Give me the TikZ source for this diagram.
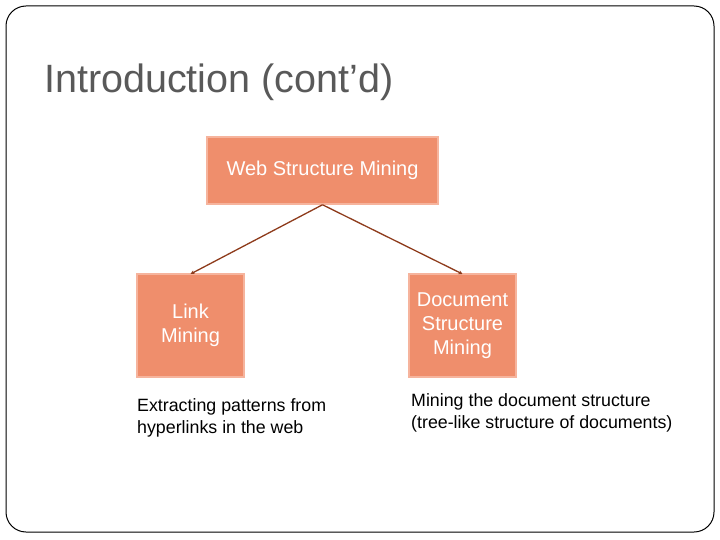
\documentclass[tikz,border=0pt]{standalone}
\usepackage{fontspec}
\setmainfont{Liberation Sans}
\usetikzlibrary{arrows.meta}
\definecolor{boxfill}{HTML}{EF8E6C}
\definecolor{boxline}{HTML}{F6B49D}
\definecolor{conn}{HTML}{8E3B1B}
\definecolor{titlec}{HTML}{595959}
\begin{document}
\begin{tikzpicture}[x=1pt,y=-1pt,
  box/.style={draw=boxline,line width=1.5pt,fill=boxfill,text=white,inner sep=0pt,align=center,font=\fontsize{20}{24}\selectfont},
  desc/.style={anchor=north west,align=left,inner sep=0pt,font=\fontsize{17.8}{22}\selectfont},
  link/.style={draw=conn,line width=1.3pt,-{Stealth[length=4pt,width=4pt]}}]
\useasboundingbox (0,0) rectangle (720,540);
\fill[white] (0,0) rectangle (720,540);
\draw[line width=1pt,rounded corners=20pt] (6,6) rectangle (714,532);
\node[anchor=west,text=titlec,font=\fontsize{39.5}{44}\selectfont,inner sep=0pt] (title) at (44,82) {Introduction (cont’d)};
\node[box,minimum width=231pt,minimum height=67pt] (web) at (322.5,170.5) {Web Structure Mining};
\node[box,minimum width=107pt,minimum height=103pt] (link) at (190.5,325.5) {Link\\Mining};
\node[box,minimum width=107pt,minimum height=103pt] (doc) at (462.5,325.5) {Document\\Structure\\Mining};
\draw[link] (web.south) -- (190.5,274);
\draw[link] (web.south) -- (462.5,274);
\node[desc] (d1) at (137,398) {Extracting patterns from\\hyperlinks in the web};
\node[desc] (d2) at (411,393) {Mining the document structure\\(tree-like structure of documents)};
\end{tikzpicture}
\end{document}
